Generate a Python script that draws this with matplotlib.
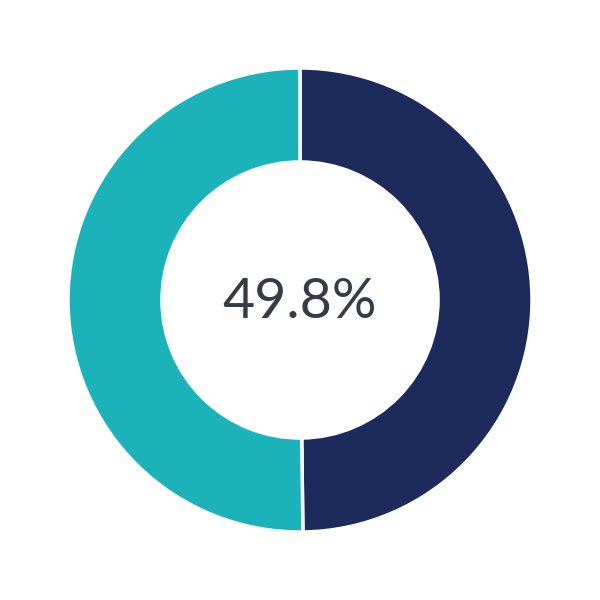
import matplotlib
matplotlib.use("Agg")
import matplotlib.pyplot as plt

labels = ["Share", "Rest"]
values = [49.8, 50.2]
colors = ["#1c2b5b", "#1bb3b9"]
center_label = "49.8%"

fig = plt.figure(figsize=(6, 6), dpi=100)
ax = fig.add_axes([0, 0, 1, 1])

ax.pie(values, colors=colors, startangle=90, counterclock=False,
       radius=1.0, wedgeprops=dict(width=0.405, edgecolor="white", linewidth=2.5))

ax.text(0, -0.01, center_label, ha="center", va="center", fontsize=40,
        family="Lato", fontweight="normal", color="#363c46")

lim = 300 / 232
ax.set_xlim(-lim, lim)
ax.set_ylim(-lim, lim)
ax.set_aspect("equal")
ax.axis("off")

fig.savefig("out.png", dpi=100, facecolor="white")
